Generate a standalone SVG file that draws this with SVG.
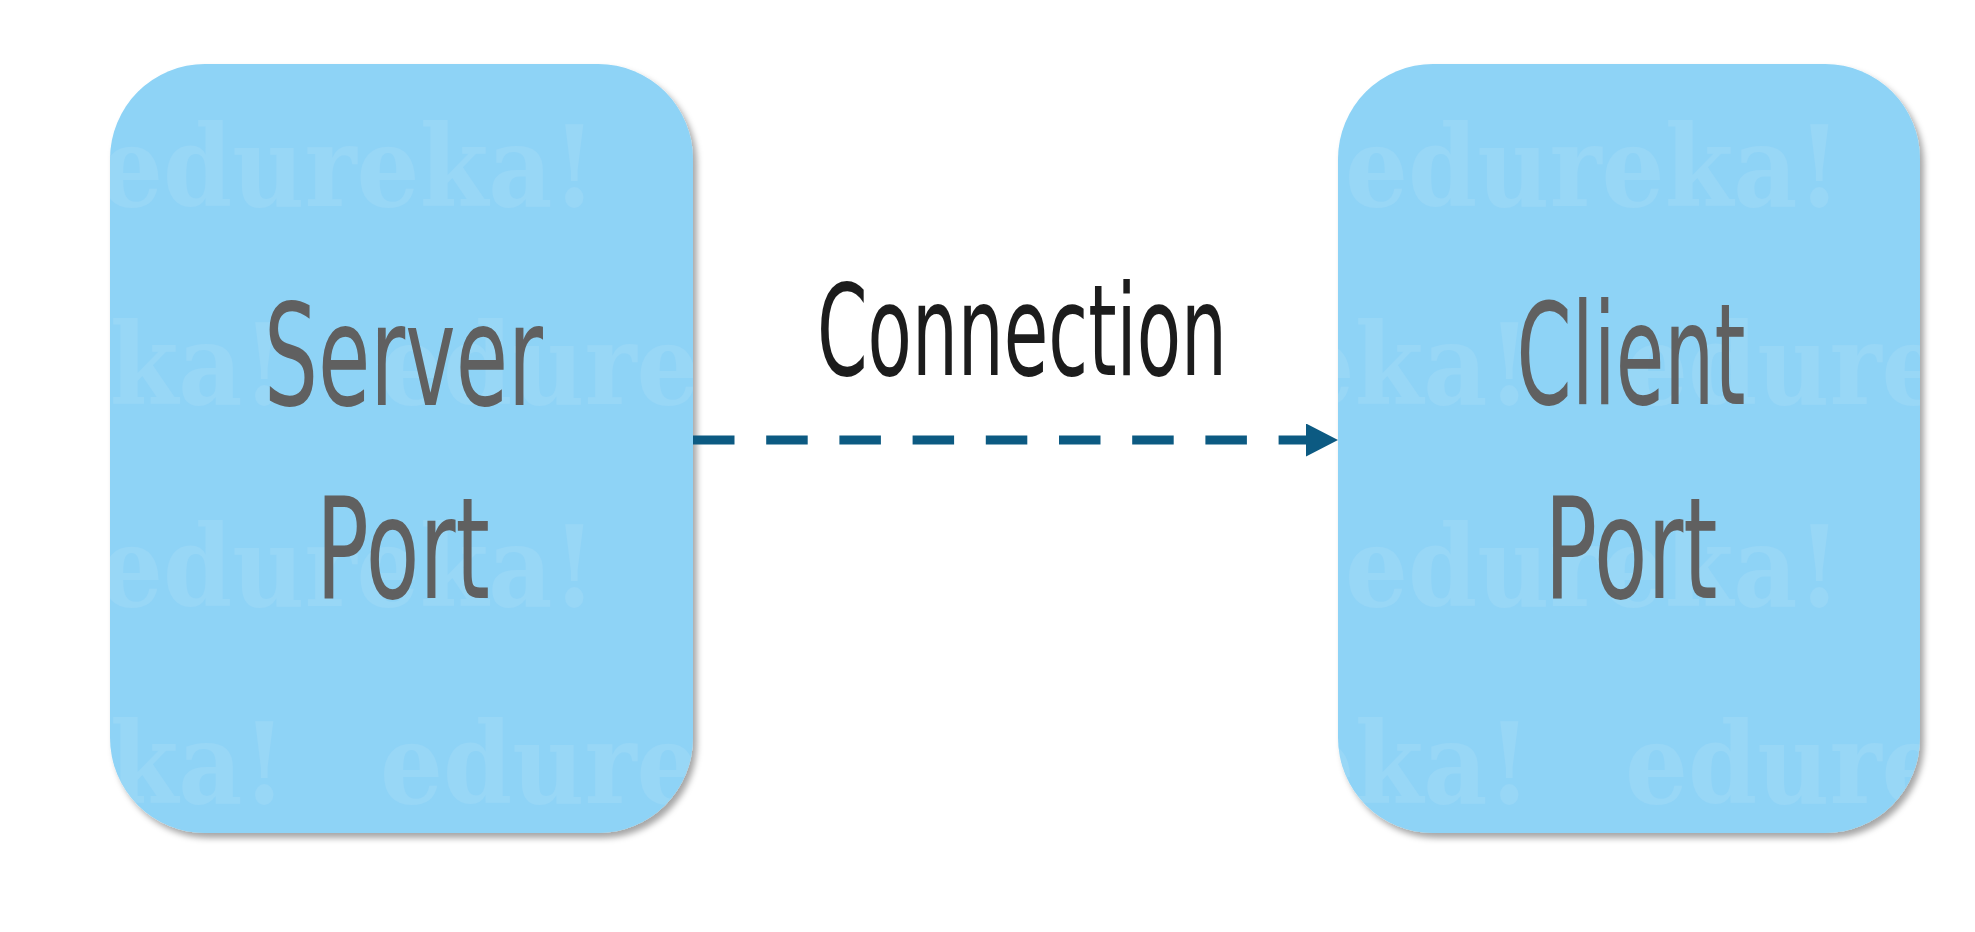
<svg xmlns="http://www.w3.org/2000/svg" width="1975" height="932" viewBox="0 0 1975 932">
<style>
.box{fill:#8ED3F6;}
.lbl{font-family:"DejaVu Sans","Liberation Sans",sans-serif;fill:#606060;text-anchor:middle;}
.conn{font-family:"DejaVu Sans","Liberation Sans",sans-serif;fill:#1c1c1c;}
.wm{font-family:"DejaVu Serif","Liberation Serif",serif;font-weight:bold;fill:#ffffff;fill-opacity:0.09;font-size:112px;}
.edge{fill:none;stroke:#0C5A82;stroke-width:9;stroke-dasharray:41.5 31.7;}
</style>
<defs>
<filter id="shadow" x="-10%" y="-10%" width="125%" height="125%">
<feDropShadow dx="4" dy="5" stdDeviation="3" flood-color="#000" flood-opacity="0.35"/>
</filter>
<clipPath id="clipL"><rect x="110" y="64" width="583" height="769" rx="95" ry="95"/></clipPath>
<clipPath id="clipR"><rect x="1338" y="64" width="582" height="769" rx="95" ry="95"/></clipPath>
<marker id="arrow" viewBox="0 0 32 33" refX="0" refY="16.5" markerWidth="32" markerHeight="33" markerUnits="userSpaceOnUse" orient="auto">
<path d="M0,0 L32,16.5 L0,33 Z" fill="#0C5A82"/>
</marker>
</defs>
<rect width="1975" height="932" fill="#ffffff"/>
<g id="server">
<rect class="box" x="110" y="64" width="583" height="769" rx="95" ry="95" filter="url(#shadow)"/>
<g clip-path="url(#clipL)">
<text class="wm" x="100" y="206" textLength="496" lengthAdjust="spacingAndGlyphs">edureka!</text>
<text class="wm" x="-210" y="404" textLength="496" lengthAdjust="spacingAndGlyphs">edureka!</text>
<text class="wm" x="380" y="404" textLength="496" lengthAdjust="spacingAndGlyphs">edureka!</text>
<text class="wm" x="100" y="606" textLength="496" lengthAdjust="spacingAndGlyphs">edureka!</text>
<text class="wm" x="-210" y="803" textLength="496" lengthAdjust="spacingAndGlyphs">edureka!</text>
<text class="wm" x="380" y="803" textLength="496" lengthAdjust="spacingAndGlyphs">edureka!</text>
</g>
<text class="lbl" x="403.5" y="405" font-size="141" textLength="279" lengthAdjust="spacingAndGlyphs">Server</text>
<text class="lbl" x="403" y="598" font-size="141" textLength="174" lengthAdjust="spacingAndGlyphs">Port</text>
</g>
<g id="client">
<rect class="box" x="1338" y="64" width="582" height="769" rx="95" ry="95" filter="url(#shadow)"/>
<g clip-path="url(#clipR)">
<text class="wm" x="1345" y="206" textLength="496" lengthAdjust="spacingAndGlyphs">edureka!</text>
<text class="wm" x="1035" y="404" textLength="496" lengthAdjust="spacingAndGlyphs">edureka!</text>
<text class="wm" x="1625" y="404" textLength="496" lengthAdjust="spacingAndGlyphs">edureka!</text>
<text class="wm" x="1345" y="606" textLength="496" lengthAdjust="spacingAndGlyphs">edureka!</text>
<text class="wm" x="1035" y="803" textLength="496" lengthAdjust="spacingAndGlyphs">edureka!</text>
<text class="wm" x="1625" y="803" textLength="496" lengthAdjust="spacingAndGlyphs">edureka!</text>
</g>
<text class="lbl" x="1631" y="404" font-size="141" textLength="229" lengthAdjust="spacingAndGlyphs">Client</text>
<text class="lbl" x="1631" y="598" font-size="141" textLength="173" lengthAdjust="spacingAndGlyphs">Port</text>
</g>
<g id="connectors">
<line class="edge" x1="693" y1="440" x2="1306" y2="440" marker-end="url(#arrow)"/>
<text class="conn" x="817" y="375" font-size="126" textLength="410" lengthAdjust="spacingAndGlyphs">Connection</text>
</g>
</svg>
